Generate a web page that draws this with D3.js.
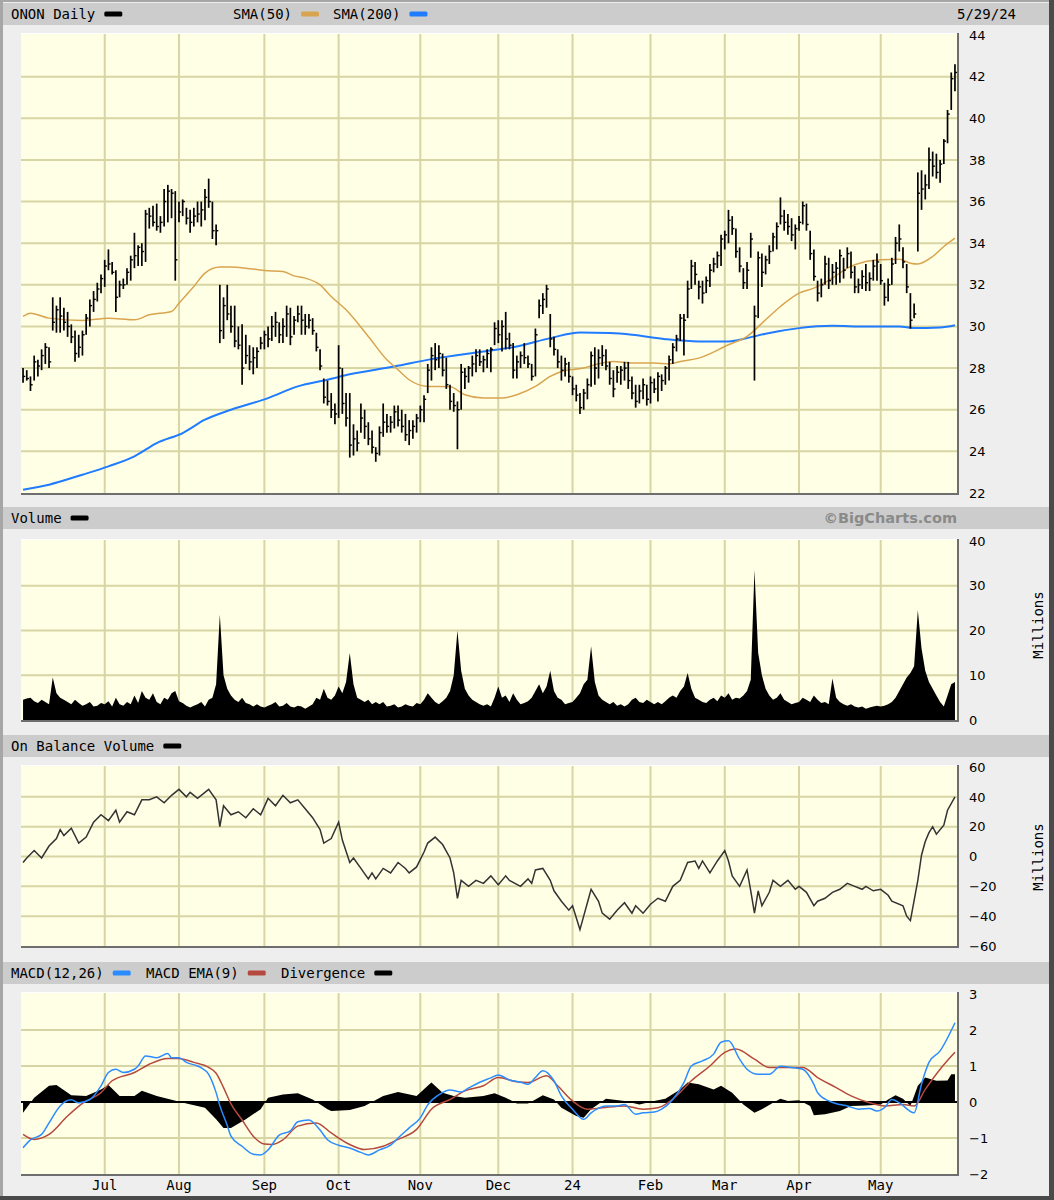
<!DOCTYPE html>
<html>
<head>
<meta charset="utf-8">
<script src="https://cdn.jsdelivr.net/npm/d3@7"></script>
<style>
  body { margin: 0; background: #eeeeee; }
  svg text { font-family: "DejaVu Sans Mono", monospace; font-size: 14px; fill: #000; }
</style>
</head>
<body>
<svg id="chart" width="1054" height="1200"></svg>
<script>
// ---- data ----
// trading-day index 0..251, last bar = 5/29/24
var monthLabels = ["Jul", "Aug", "Sep", "Oct", "Nov", "Dec", "24", "Feb", "Mar", "Apr", "May"]
var monthIndex = [22, 42, 65, 85, 107, 128, 148, 169, 189, 209, 231]

var priceHigh = [
  28.0,27.9,27.6,28.6,28.4,28.9,29.2,29.0,31.4,31.0,
  31.4,30.9,30.7,30.1,29.8,29.6,29.8,30.6,31.3,31.7,
  32.1,32.5,33.2,33.7,33.1,32.7,32.2,32.3,32.8,33.4,
  34.5,33.9,34.0,35.6,35.7,35.8,35.9,35.3,36.6,36.8,
  36.6,36.5,36.0,36.1,35.7,35.6,35.7,36.0,36.0,36.6,
  37.1,36.0,34.9,32.0,31.4,32.0,31.0,31.0,30.0,30.1,
  29.6,29.1,29.0,29.0,29.5,29.8,30.0,30.5,30.7,30.2,
  30.4,31.0,30.9,30.5,31.0,31.0,30.6,30.6,30.4,29.7,
  28.9,27.5,27.4,26.8,26.3,29.1,28.0,26.8,26.8,25.3,
  25.0,26.3,26.0,25.4,25.0,24.2,25.2,26.3,25.8,25.7,
  26.2,26.2,26.0,25.8,25.5,25.5,25.8,26.2,26.7,28.2,
  29.0,29.2,29.1,28.7,28.5,27.2,26.8,26.4,28.2,28.0,
  28.1,28.6,28.9,28.9,28.6,28.9,29.0,30.2,30.3,30.3,
  30.7,29.7,29.2,28.6,28.8,29.2,28.6,28.2,29.9,31.3,
  31.6,32.0,30.6,29.5,28.9,28.6,28.5,28.3,27.6,27.2,
  26.8,27.0,27.5,28.8,29.0,28.9,29.1,28.9,28.3,27.9,
  28.1,28.1,28.3,28.3,27.6,27.2,27.2,27.5,27.2,27.6,
  27.5,27.8,27.7,28.1,28.6,29.2,29.6,30.6,30.6,32.2,
  33.2,33.1,32.2,32.2,32.4,33.0,33.3,33.6,34.4,34.6,
  35.6,35.3,34.7,33.8,32.8,33.1,34.5,31.0,33.6,33.5,
  33.4,33.9,34.5,35.0,36.2,35.6,35.4,35.2,34.9,35.3,
  36.0,35.9,34.6,33.7,32.2,32.3,33.4,33.3,33.0,33.1,
  33.7,33.3,33.8,33.6,32.9,32.3,32.7,33.0,32.6,33.2,
  33.5,33.0,32.1,32.3,33.3,34.3,34.9,33.8,33.0,31.6,
  31.1,37.4,37.5,37.3,38.6,38.4,38.3,38.0,39.0,40.4,
  42.2,42.6
]
var priceLow = [
  27.3,27.4,26.9,27.4,27.6,27.9,28.2,28.0,29.8,29.7,
  29.7,29.8,29.5,29.2,28.3,28.5,28.6,29.6,30.0,30.7,
  31.2,31.6,31.9,32.7,32.5,30.7,31.4,31.8,32.0,32.2,
  32.8,32.9,32.9,33.1,34.7,34.8,34.6,34.5,34.8,35.0,
  35.2,32.2,35.0,35.3,34.9,34.5,34.8,35.0,34.8,35.1,
  35.7,34.2,33.9,29.2,29.4,30.3,29.7,29.0,28.9,27.2,
  28.2,27.9,27.7,28.0,28.9,28.9,29.0,29.3,29.5,29.2,
  29.2,29.5,29.1,29.6,30.2,29.6,29.6,29.9,29.6,28.8,
  27.9,26.3,26.2,25.6,25.3,25.6,25.8,25.2,23.7,23.8,
  24.0,24.9,24.6,24.3,23.9,23.5,23.8,24.7,24.9,24.9,
  25.1,25.2,24.9,24.5,24.3,24.6,24.9,25.4,25.4,26.8,
  27.4,27.9,28.0,27.6,27.0,26.0,25.9,24.1,26.0,27.0,
  27.3,27.6,27.8,28.1,27.8,28.0,27.8,29.1,29.2,28.8,
  28.9,28.9,27.5,27.5,28.0,28.2,28.0,27.4,27.6,30.4,
  30.6,30.9,29.0,28.6,28.0,27.4,27.6,27.3,26.7,26.4,
  25.8,26.0,26.5,27.1,27.2,27.5,28.1,27.9,27.2,26.6,
  27.3,27.2,27.4,27.0,26.5,26.1,26.3,26.5,26.2,26.3,
  26.8,26.4,26.9,27.2,27.4,28.2,28.8,29.3,28.6,30.4,
  31.8,32.0,31.3,31.1,31.6,31.9,32.6,32.8,32.9,33.7,
  34.0,34.4,33.3,32.6,31.8,31.8,33.3,27.4,30.4,31.9,
  32.5,33.0,33.6,33.7,34.9,34.6,34.4,34.1,33.7,34.6,
  34.9,34.6,33.2,32.2,31.2,31.4,32.0,31.8,32.0,32.0,
  32.1,32.3,32.8,32.3,31.6,31.6,31.8,31.7,31.7,32.2,
  32.2,32.0,31.0,31.2,32.0,33.0,33.6,32.8,31.6,29.9,
  30.4,33.6,35.6,36.1,36.6,37.2,37.1,36.9,37.8,38.8,
  40.4,41.3
]
var priceClose = [
  27.6,27.5,27.2,28.3,28.1,28.6,29.0,28.3,30.2,30.8,
  30.5,30.2,30.0,29.5,28.7,29.0,29.6,30.4,31.0,31.3,
  31.8,32.3,32.9,33.0,32.6,31.4,32.0,32.0,32.6,33.2,
  33.4,33.8,33.6,35.4,35.3,35.0,34.8,35.0,36.0,36.5,
  36.4,33.2,35.5,36.0,35.2,35.0,35.3,35.4,35.6,36.2,
  36.0,34.6,34.6,29.8,31.0,30.6,30.0,29.3,29.1,28.0,
  28.6,28.3,28.5,28.8,29.2,29.6,29.4,30.0,30.2,29.6,
  30.0,30.6,29.5,30.3,30.6,30.3,30.0,30.3,29.8,29.0,
  28.1,26.6,26.4,26.0,25.8,28.0,26.3,25.6,24.3,24.6,
  24.4,25.6,25.2,24.6,24.2,23.9,24.9,25.4,25.2,25.4,
  25.9,25.5,25.2,24.8,25.0,25.2,25.6,26.0,26.5,27.9,
  28.6,28.4,28.7,27.9,27.2,26.4,26.2,26.0,27.8,27.6,
  28.0,28.2,28.6,28.3,28.4,28.7,28.9,29.9,29.6,30.0,
  29.4,29.1,27.9,28.3,28.6,28.5,28.2,27.6,29.6,31.0,
  31.3,31.8,29.4,28.9,28.3,27.9,28.2,27.6,27.0,26.7,
  26.1,26.8,27.2,28.6,28.0,28.5,28.6,28.1,27.5,27.0,
  27.8,27.9,28.0,27.4,26.8,26.4,26.9,27.2,26.5,27.3,
  27.0,27.6,27.4,28.0,28.4,29.0,29.4,30.4,30.3,31.8,
  32.9,32.5,31.9,31.6,32.2,32.7,33.0,33.4,34.2,34.4,
  35.1,34.7,33.6,32.9,32.1,32.7,34.2,30.5,33.3,32.6,
  33.2,33.6,34.3,34.8,35.3,35.0,34.8,34.4,34.7,35.0,
  35.8,34.9,33.5,32.4,31.6,32.0,33.0,32.2,32.6,32.8,
  33.4,32.7,33.5,32.6,31.9,32.0,32.4,32.1,32.3,32.9,
  33.1,32.2,31.4,32.0,33.0,34.0,34.2,33.1,31.9,30.3,
  30.6,36.4,36.6,36.8,38.0,37.7,37.4,37.8,38.9,40.2,
  41.9,42.2
]

// moving averages, [day index, value]
var sma50 = [[0,30.48],[2,30.64],[7,30.4],[16,30.29],[23,30.4],[30,30.32],[34,30.56],[40,30.72],[42,31.12],
  [46,31.92],[49,32.56],[53,32.85],[56,32.85],[60,32.8],[65,32.69],[70,32.64],[73,32.43],[76,32.32],[80,32.0],
  [83,31.44],[87,30.8],[93,29.52],[98,28.4],[101,27.92],[104,27.44],[109,27.12],[115,27.1],[119,26.72],
  [124,26.56],[129,26.56],[133,26.72],[138,27.12],[142,27.6],[145,27.84],[151,28.0],[154,28.16],[159,28.32],
  [164,28.24],[170,28.24],[174,28.2],[177,28.32],[182,28.48],[190,29.12],[195,29.52],[200,30.32],[204,30.96],
  [209,31.6],[213,31.84],[218,32.32],[222,32.8],[227,33.12],[231,33.2],[236,33.23],[239,33.04],[241,33.0],
  [245,33.36],[248,33.84],[251,34.24]]
var sma200 = [[0,22.16],[7,22.4],[16,22.88],[23,23.28],[30,23.76],[36,24.4],[43,24.88],[49,25.52],[56,26.0],
  [66,26.56],[74,27.12],[82,27.44],[88,27.7],[100,28.08],[110,28.43],[124,28.8],[133,29.04],[142,29.44],
  [150,29.71],[158,29.68],[164,29.6],[173,29.39],[182,29.28],[190,29.28],[195,29.44],[200,29.65],[209,29.92],
  [218,30.03],[227,30.0],[236,30.0],[240,29.92],[247,29.95],[251,30.06]]

// volume, millions per day
var volume = [
  4.5,4.8,5.0,4.2,3.8,4.5,4.0,3.5,
  9.5,6.0,5.0,4.5,4.0,3.5,4.5,3.8,3.2,3.5,
  4.0,3.0,3.2,3.8,3.5,4.2,3.0,5.0,3.5,3.2,
  4.0,3.5,5.5,3.8,6.5,5.0,4.5,6.0,4.0,3.5,
  5.0,4.5,6.0,6.5,4.2,3.8,3.2,2.8,3.2,3.5,
  4.0,3.0,4.5,5.0,8.0,23.5,10.0,7.0,5.5,4.5,
  4.0,5.0,3.8,3.5,3.0,3.5,3.0,2.8,3.2,3.5,
  4.0,3.0,3.2,3.8,3.0,2.8,3.2,3.0,2.5,3.0,
  3.5,5.0,4.5,7.0,5.0,4.5,5.5,7.5,6.0,8.5,
  15.0,8.0,5.0,4.5,4.0,4.5,3.5,4.0,3.5,4.0,
  3.0,3.2,3.5,2.8,3.0,3.5,3.2,3.0,3.8,3.5,
  4.5,6.0,5.0,4.0,3.5,4.2,5.0,6.5,10.0,20.0,
  11.0,7.0,5.5,4.5,4.0,3.5,3.2,3.5,3.0,5.0,
  7.5,5.0,5.5,4.0,6.0,4.5,3.5,3.8,4.2,5.0,
  6.5,8.0,6.0,7.5,11.0,6.5,5.0,4.5,3.5,3.8,
  4.0,5.0,6.0,8.0,9.0,16.5,8.5,5.5,4.5,4.0,
  3.5,4.0,3.2,3.5,3.0,3.5,4.5,5.0,4.0,3.8,
  4.5,4.0,3.5,4.0,3.5,4.2,5.0,5.5,5.0,6.5,
  7.5,10.5,7.0,5.0,4.5,4.0,3.8,4.5,5.0,4.2,
  5.5,5.0,6.0,4.5,5.0,4.8,5.5,6.5,9.0,33.5,
  15.0,10.0,7.0,5.5,4.5,5.0,6.0,4.5,4.0,3.5,
  3.8,4.0,5.0,4.5,4.0,5.5,4.5,3.8,4.0,3.5,
  9.3,5.0,4.0,3.5,3.2,3.5,3.0,2.8,3.0,2.5,
  2.8,3.0,3.2,3.0,3.2,3.5,4.0,5.0,6.5,8.0,
  9.5,10.5,12.0,24.5,16.0,11.0,8.5,7.0,5.5,4.0,
  3.0,5.5,8.0,8.5
]

// on balance volume, millions
var obvPoints = [[0,-4],[1,-1],[3,4],[5,-1],[7,7],[9,12],[10,18],[11,14],[13,19],[15,9],[17,13],[19,23],
  [21,28],[23,24],[25,31],[26,23],[28,30],[30,28],[32,38],[34,38],[36,40],[38,36],[40,41],[42,45],[44,40],
  [45,43],[47,39],[49,43],[50,45],[52,38],[53,20],[54,34],[56,28],[58,30],[60,26],[62,32],[64,28],[66,39],
  [68,34],[70,41],[72,36],[74,38],[76,32],[78,26],[80,18],[81,9],[83,12],[85,23],[86,11],[88,-4],[89,-1],
  [91,-8],[93,-15],[94,-11],[95,-15],[97,-8],[99,-11],[101,-4],[103,-8],[104,-11],[106,-7],[108,3],[109,9],
  [111,13],[113,8],[115,-1],[116,-11],[117,-28],[118,-16],[120,-20],[122,-16],[124,-18],[126,-13],[128,-19],
  [130,-13],[131,-16],[134,-20],[136,-15],[137,-18],[138,-9],[140,-8],[142,-16],[143,-23],[145,-30],[147,-36],
  [148,-33],[150,-49],[151,-40],[152,-31],[153,-22],[155,-30],[156,-38],[158,-42],[160,-36],[162,-31],
  [164,-38],[165,-33],[167,-38],[169,-32],[171,-28],[173,-30],[175,-20],[177,-16],[179,-4],[181,-3],[182,-8],
  [183,-3],[185,-11],[187,-3],[189,4],[190,-3],[191,-13],[193,-20],[195,-9],[196,-23],[197,-38],[198,-23],
  [199,-33],[201,-24],[202,-16],[204,-20],[206,-16],[208,-22],[209,-20],[211,-24],[213,-33],[214,-30],
  [216,-28],[218,-24],[220,-22],[222,-18],[224,-20],[226,-22],[227,-20],[229,-23],[231,-22],[233,-26],
  [234,-30],[237,-33],[238,-40],[239,-43],[241,-16],[242,1],[243,10],[244,16],[245,20],[246,15],[248,21],
  [249,31],[251,40]]

// MACD(12,26), signal EMA(9), divergence
var macdLine = [[0,-1.27],[2,-1.05],[5,-0.9],[7,-0.58],[10,-0.11],[13,0.06],[15,-0.02],[18,0.07],[21,0.45],
  [23,0.82],[25,0.91],[27,0.82],[30,0.91],[31,1.0],[33,1.28],[36,1.23],[39,1.35],[40,1.23],[42,1.23],[44,1.1],
  [47,1.0],[48,0.95],[50,0.77],[52,0.26],[53,-0.1],[55,-0.65],[56,-0.95],[59,-1.23],[62,-1.45],[64,-1.47],
  [66,-1.33],[69,-0.92],[72,-0.8],[74,-0.55],[77,-0.5],[80,-0.78],[82,-1.05],[85,-1.2],[88,-1.28],[91,-1.4],
  [93,-1.47],[96,-1.33],[99,-1.2],[101,-1.0],[104,-0.72],[107,-0.44],[109,-0.08],[112,0.2],[115,0.33],
  [118,0.28],[120,0.39],[123,0.55],[126,0.67],[128,0.75],[131,0.61],[134,0.55],[136,0.49],[138,0.68],
  [140,0.87],[143,0.59],[145,0.17],[148,-0.2],[151,-0.48],[153,-0.3],[157,-0.11],[160,-0.11],[162,-0.07],
  [165,-0.34],[167,-0.3],[170,-0.28],[172,-0.2],[175,0.07],[178,0.54],[180,1.0],[183,1.14],[186,1.33],
  [188,1.66],[190,1.7],[193,1.19],[195,0.91],[198,0.77],[201,0.77],[204,0.99],[207,0.96],[210,0.91],
  [213,0.49],[214,0.26],[217,0.03],[220,-0.07],[222,-0.11],[225,-0.2],[228,-0.18],[230,-0.25],[232,-0.16],
  [234,0.07],[236,-0.02],[240,-0.3],[242,0.5],[244,1.1],[247,1.42],[251,2.2]]
var macdSignal = [[0,-0.9],[3,-1.04],[7,-0.9],[12,-0.39],[16,-0.04],[21,0.26],[24,0.59],[30,0.82],[34,1.05],
  [39,1.21],[42,1.21],[46,1.1],[50,0.96],[52,0.8],[54,0.4],[56,-0.05],[59,-0.5],[62,-0.95],[65,-1.17],
  [67,-1.18],[70,-1.05],[74,-0.67],[79,-0.58],[83,-0.86],[88,-1.18],[92,-1.32],[97,-1.23],[101,-1.04],
  [106,-0.76],[110,-0.2],[115,0.07],[119,0.31],[124,0.45],[128,0.68],[133,0.56],[136,0.54],[141,0.73],
  [144,0.45],[148,0.03],[152,-0.2],[156,-0.16],[162,-0.11],[167,-0.2],[171,-0.16],[176,0.17],[180,0.59],
  [185,1.0],[189,1.38],[192,1.47],[197,1.19],[201,0.96],[205,0.96],[210,0.96],[214,0.68],[219,0.4],
  [223,0.17],[228,-0.02],[232,-0.11],[237,-0.07],[240,-0.11],[243,0.35],[247,0.91],[251,1.38]]
var macdDivergence = [[0,-0.3],[3,0.12],[7,0.45],[9,0.47],[13,0.19],[17,0.17],[21,0.35],[23,0.47],[26,0.17],
  [30,0.17],[32,0.31],[36,0.17],[40,0.06],[44,-0.04],[49,-0.16],[52,-0.48],[54,-0.72],[56,-0.72],[60,-0.48],
  [64,-0.2],[66,0.12],[70,0.21],[74,0.24],[78,0.07],[82,-0.2],[83,-0.25],[88,-0.22],[92,-0.11],[97,0.17],
  [101,0.28],[106,0.17],[109,0.45],[110,0.54],[113,0.26],[116,0.17],[119,0.12],[124,0.17],[127,0.24],
  [130,0.12],[133,-0.04],[136,-0.04],[138,0.07],[140,0.19],[143,0.07],[145,-0.16],[149,-0.39],[151,-0.44],
  [153,-0.2],[157,0.09],[162,0.03],[166,-0.07],[170,0.03],[173,0.09],[177,0.35],[179,0.54],[182,0.49],
  [186,0.35],[188,0.45],[191,0.26],[194,-0.07],[197,-0.3],[199,-0.2],[202,-0.02],[204,0.09],[206,0.03],
  [209,0.05],[212,-0.11],[213,-0.37],[216,-0.34],[220,-0.25],[223,-0.11],[227,-0.1],[231,-0.07],[233,0.07],
  [235,0.19],[237,0.09],[239,-0.11],[241,0.45],[243,0.68],[246,0.59],[249,0.6],[250,0.77],[251,0.77]]

var priceTicks = [22,24,26,28,30,32,34,36,38,40,42,44]
var volumeTicks = [0,10,20,30,40]
var obvTicks = [-60,-40,-20,0,20,40,60]
var macdTicks = [-2,-1,0,1,2,3]

// ---- drawing ----
var W = 1054, H = 1200
var plotL = 21, plotR = 957
var gridColor = "#d7d5a3"
var svg = d3.select("#chart")

svg.append("rect").attr("width", W).attr("height", H).attr("fill", "#eeeeee")
// bevelled frame
svg.append("rect").attr("x", 0).attr("y", 0).attr("width", 3).attr("height", H).attr("fill", "#a6a6a6")
svg.append("rect").attr("x", 0).attr("y", 0).attr("width", W).attr("height", 2).attr("fill", "#a6a6a6")
svg.append("rect").attr("x", W - 5).attr("y", 0).attr("width", 5).attr("height", H).attr("fill", "#4a4a4a")
svg.append("rect").attr("x", 0).attr("y", H - 4).attr("width", W).attr("height", 4).attr("fill", "#4a4a4a")

var x = d3.scaleLinear().domain([-0.55, 251.55]).range([plotL, plotR])

function headerBar(top, items) {
   svg.append("rect").attr("x", 3).attr("y", top).attr("width", W - 8).attr("height", 22).attr("fill", "#cccccc")
   items.forEach(function(it) {
      let t = svg.append("text")
         .attr("x", it.x).attr("y", top + 16)
         .text(it.label)
      if(it.anchor) t.attr("text-anchor", it.anchor)
      if(it.style) t.attr("style", it.style)
      if(it.swatch) {
         let w = t.node().getComputedTextLength()
         svg.append("rect")
            .attr("x", it.x + w + 9).attr("y", top + 8.5)
            .attr("width", 18).attr("height", 5).attr("rx", 1.5)
            .attr("fill", it.swatch)
      }
   })
}

function panel(name, top, bottom, domain, r0, r1, grid, ticks) {
   let y = d3.scaleLinear().domain(domain).range([r0, r1])
   let g = svg.append("g")
   g.append("rect")
      .attr("x", plotL).attr("y", top)
      .attr("width", plotR - plotL).attr("height", bottom - top)
      .attr("fill", "#ffffe6")
   g.selectAll("line.h").data(grid).enter().append("line")
      .attr("x1", plotL).attr("x2", plotR)
      .attr("y1", function(d) { return y(d) }).attr("y2", function(d) { return y(d) })
      .attr("stroke", gridColor).attr("stroke-width", 2)
   g.selectAll("line.v").data(monthIndex).enter().append("line")
      .attr("x1", function(d) { return x(d) }).attr("x2", function(d) { return x(d) })
      .attr("y1", top).attr("y2", bottom)
      .attr("stroke", gridColor).attr("stroke-width", 2)
   // edges: light top/left, dark bottom/right
   g.append("line").attr("x1", plotL).attr("x2", plotR).attr("y1", top + 0.5).attr("y2", top + 0.5)
      .attr("stroke", "#ffffff").attr("stroke-width", 1)
   g.append("line").attr("x1", plotL).attr("x2", plotR + 2).attr("y1", bottom + 1).attr("y2", bottom + 1)
      .attr("stroke", "#6e6e6e").attr("stroke-width", 2)
   g.append("line").attr("x1", plotR + 1).attr("x2", plotR + 1).attr("y1", top).attr("y2", bottom + 2)
      .attr("stroke", "#6e6e6e").attr("stroke-width", 2)

   svg.append("clipPath").attr("id", "clip-" + name).append("rect")
      .attr("x", plotL).attr("y", top).attr("width", plotR - plotL).attr("height", bottom - top)
   let plot = svg.append("g").attr("clip-path", "url(#clip-" + name + ")")

   let axis = d3.axisRight(y).tickValues(ticks).tickSize(0).tickPadding(0).tickFormat(d3.format("d"))
   let ag = svg.append("g").attr("transform", "translate(969,0)").call(axis)
   ag.select(".domain").remove()
   ag.selectAll("text")
      .attr("style", "font-family:'DejaVu Sans',sans-serif;font-size:13px;fill:#000")
   return { y: y, plot: plot }
}

function millions(cy) {
   svg.append("text")
      .attr("transform", "translate(1043," + cy + ") rotate(-90)")
      .attr("text-anchor", "middle")
      .text("Millions")
}

// header bars
headerBar(3, [
   { x: 11, label: "ONON Daily", swatch: "#000" },
   { x: 233, label: "SMA(50)", swatch: "#d9a44f" },
   { x: 333, label: "SMA(200)", swatch: "#1f7bff" },
   { x: 957, label: "5/29/24" }
])
headerBar(507, [
   { x: 11, label: "Volume", swatch: "#000" },
   { x: 957, label: "\u00a9BigCharts.com", anchor: "end",
     style: "font-family:'DejaVu Sans',sans-serif;font-weight:bold;font-size:14.5px;fill:#8a8a8a" }
])
headerBar(735, [
   { x: 11, label: "On Balance Volume", swatch: "#000" }
])
headerBar(962, [
   { x: 11, label: "MACD(12,26)", swatch: "#2b8cff" },
   { x: 146, label: "MACD EMA(9)", swatch: "#b5493e" },
   { x: 281, label: "Divergence", swatch: "#000" }
])

// price panel
var pp = panel("price", 33, 493, [22, 44], 493, 35, [24,26,28,30,32,34,36,38,40,42], priceTicks)
var bars = priceHigh.map(function(h, i) { return { i: i, h: h, l: priceLow[i], c: priceClose[i] } })

var lineSma = d3.line()
   .x(function(d) { return x(d[0]) })
   .y(function(d) { return pp.y(d[1]) })
   .curve(d3.curveMonotoneX)
pp.plot.append("path").datum(sma200).attr("d", lineSma)
   .attr("fill", "none").attr("stroke", "#1f7bff").attr("stroke-width", 2)
pp.plot.append("path").datum(sma50).attr("d", lineSma)
   .attr("fill", "none").attr("stroke", "#d9a44f").attr("stroke-width", 1.5)

pp.plot.selectAll("line.hl").data(bars).enter().append("line")
   .attr("x1", function(d) { return x(d.i) }).attr("x2", function(d) { return x(d.i) })
   .attr("y1", function(d) { return pp.y(d.h) }).attr("y2", function(d) { return pp.y(d.l) })
   .attr("stroke", "#000").attr("stroke-width", 1.7)
pp.plot.selectAll("line.cl").data(bars).enter().append("line")
   .attr("x1", function(d) { return x(d.i) }).attr("x2", function(d) { return x(d.i) + 2.2 })
   .attr("y1", function(d) { return pp.y(d.c) }).attr("y2", function(d) { return pp.y(d.c) })
   .attr("stroke", "#000").attr("stroke-width", 1.4)

// volume panel
var vp = panel("vol", 539, 720, [0, 40], 720, 541, [10, 20, 30], volumeTicks)
vp.plot.append("path").datum(volume)
   .attr("d", d3.area()
      .x(function(d, i) { return x(i) })
      .y0(vp.y(0))
      .y1(function(d) { return vp.y(d) }))
   .attr("fill", "#000")
millions(625)

// OBV panel
var op = panel("obv", 765, 946, [-60, 60], 946, 767, [-40, -20, 0, 20, 40], obvTicks)
op.plot.append("path").datum(obvPoints)
   .attr("d", d3.line()
      .x(function(d) { return x(d[0]) })
      .y(function(d) { return op.y(d[1]) }))
   .attr("fill", "none").attr("stroke", "#333").attr("stroke-width", 1.5)
millions(857)

// MACD panel
var mp = panel("macd", 992, 1174, [-2, 3], 1174, 994, [-1, 0, 1, 2], macdTicks)
mp.plot.append("path").datum(macdDivergence)
   .attr("d", d3.area()
      .x(function(d) { return x(d[0]) })
      .y0(mp.y(0))
      .y1(function(d) { return mp.y(d[1]) }))
   .attr("fill", "#000")
mp.plot.append("line")
   .attr("x1", plotL).attr("x2", plotR)
   .attr("y1", mp.y(0)).attr("y2", mp.y(0))
   .attr("stroke", "#000").attr("stroke-width", 2)
var lineMacd = d3.line()
   .x(function(d) { return x(d[0]) })
   .y(function(d) { return mp.y(d[1]) })
   .curve(d3.curveMonotoneX)
mp.plot.append("path").datum(macdSignal).attr("d", lineMacd)
   .attr("fill", "none").attr("stroke", "#b5493e").attr("stroke-width", 1.5)
mp.plot.append("path").datum(macdLine).attr("d", lineMacd)
   .attr("fill", "none").attr("stroke", "#2b8cff").attr("stroke-width", 1.5)

// month labels
svg.selectAll("text.month").data(monthLabels).enter().append("text")
   .attr("x", function(d, i) { return x(monthIndex[i]) })
   .attr("y", 1190)
   .attr("text-anchor", "middle")
   .text(function(d) { return d })
</script>
</body>
</html>
